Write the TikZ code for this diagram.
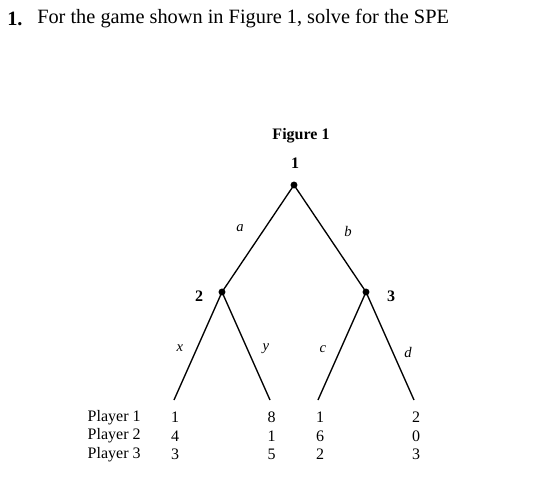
\documentclass[tikz,border=0pt]{standalone}
\usepackage{fontspec}
\setmainfont{Liberation Serif}
\usetikzlibrary{positioning}

\begin{document}
\begin{tikzpicture}[
  x=0.75pt, y=-0.75pt,
  decnode/.style={circle, fill=black, inner sep=0pt, minimum size=5.2pt},
  branch/.style={line width=1pt, color=black},
  player/.style={font=\fontsize{12}{14}\selectfont\bfseries},
  move/.style={font=\fontsize{11}{13}\selectfont\itshape},
  payoff/.style={align=center, font=\fontsize{12}{13.9}\selectfont},
  heading/.style={anchor=west, inner sep=0pt, font=\fontsize{15.25}{18}\selectfont}
]
  \useasboundingbox (0,0) rectangle (558,482);

  % question
  \node[heading] (num)   at (7,19)  {\bfseries 1.};
  \node[heading] (quest) at (37,19) {For the game shown in Figure 1, solve for the SPE};

  \node[player] (fig) at (301,136) {Figure 1};

  % decision nodes
  \node[decnode] (root) at (294,185) {};
  \node[decnode] (n2)   at (222,292) {};
  \node[decnode] (n3)   at (366,292) {};
  \coordinate (lx) at (174,400);
  \coordinate (ly) at (270,400);
  \coordinate (lc) at (318,400);
  \coordinate (ld) at (414,400);

  \node[player] (p1) at (295,163) {1};
  \node[player] (p2) at (199,296) {2};
  \node[player] (p3) at (391,296) {3};

  % branches
  \draw[branch] (root.center) -- (n2.center);
  \draw[branch] (root.center) -- (n3.center);
  \draw[branch] (n2.center) -- (lx);
  \draw[branch] (n2.center) -- (ly);
  \draw[branch] (n3.center) -- (lc);
  \draw[branch] (n3.center) -- (ld);

  \node[move] (ma) at (240,228) {a};
  \node[move] (mb) at (348,231) {b};
  \node[move] (mx) at (180,348) {x};
  \node[move] (my) at (266,349) {y};
  \node[move] (mc) at (323,349) {c};
  \node[move] (md) at (408,352) {d};

  % payoffs
  \node[payoff] (ux) at (175,436) {1\\4\\3};
  \node[payoff] (uy) at (271.5,436) {8\\1\\5};
  \node[payoff] (uc) at (320,436) {1\\6\\2};
  \node[payoff] (ud) at (416,436) {2\\0\\3};
  \node[payoff, align=left, anchor=west] (names) at (83,436) {Player 1\\Player 2\\Player 3};
\end{tikzpicture}
\end{document}
